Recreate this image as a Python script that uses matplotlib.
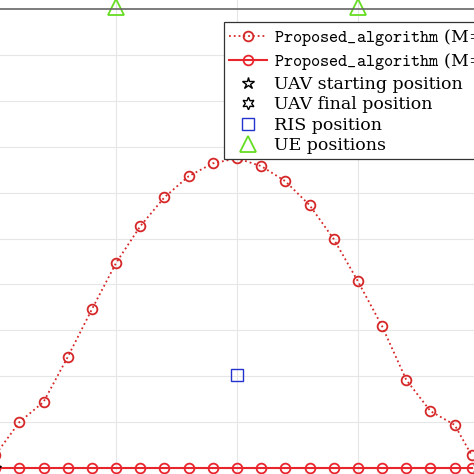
import matplotlib.pyplot as plt

plt.rcParams["font.family"] = "DejaVu Serif"
plt.rcParams["mathtext.fontset"] = "cm"

# trajectory samples (x, y in plot units)
traj_x = [0.0, 0.2, 0.4, 0.6, 0.8, 1.0, 1.2, 1.4, 1.6, 1.8, 2.0,
          2.2, 2.4, 2.6, 2.8, 3.0, 3.2, 3.4, 3.6, 3.8, 3.94]
traj_m1 = [0.28, 1.0, 1.44, 2.42, 3.46, 4.47, 5.27, 5.9, 6.36, 6.64, 6.75,
           6.58, 6.25, 5.73, 4.99, 4.07, 3.09, 1.92, 1.24, 0.94, 0.28]
traj_m2 = [0.0] * len(traj_x)

uav_start = (0.0, 0.0)
uav_final = (4.0, 0.0)
ris_pos = (2.0, 2.02)
ue_x = [1.0, 3.0]
ue_y = [10.05, 10.05]

fig = plt.figure(figsize=(4.74, 4.74), dpi=100)
ax = fig.add_axes([0, 0, 1, 1])

ax.plot(traj_x, traj_m1, ":", color="#d62728", marker="o", markersize=7,
        markerfacecolor="none", markeredgewidth=1.3, linewidth=1.3,
        label=r"$\mathtt{Proposed\_algorithm}$ (M=4)")
ax.plot(traj_x, traj_m2, "-", color="#e8242c", marker="o", markersize=7,
        markerfacecolor="none", markeredgewidth=1.3, linewidth=1.5,
        label=r"$\mathtt{Proposed\_algorithm}$ (M=16)")
ax.plot(*uav_start, linestyle="none", marker="*", color="black", markersize=9,
        markerfacecolor="none", label="UAV starting position")
ax.plot(*uav_final, linestyle="none", marker=(6, 1, 0), color="black", markersize=9,
        markerfacecolor="none", label="UAV final position")
ax.plot(*ris_pos, linestyle="none", marker="s", color="#2233cc", markersize=9,
        markerfacecolor="none", label="RIS position")
ax.plot(ue_x, ue_y, linestyle="none", marker="^", color="#66dd22", markersize=12,
        markerfacecolor="none", markeredgewidth=1.3, label="UE positions", clip_on=False)

ax.axhline(10.0, color="#666666", linewidth=1.2)
ax.set_xlim(0.04, 3.96)
ax.set_ylim(-0.13, 10.2)
ax.set_xticks([1, 2, 3])
ax.set_yticks(range(0, 10))
ax.grid(True, color="#e6e6e6", linewidth=0.8)
ax.tick_params(length=0, labelbottom=False, labelleft=False)
for s in ax.spines.values():
    s.set_visible(False)

leg = fig.legend(loc="upper left", bbox_to_anchor=(215 / 474, 1 - 13 / 474),
                 fontsize=12.5, frameon=True, fancybox=False, framealpha=1,
                 edgecolor="#333333", borderpad=0.3, labelspacing=0.2,
                 handlelength=2.2, handletextpad=0.4)
leg.get_frame().set_linewidth(0.9)

fig.savefig("out.png", dpi=100)
